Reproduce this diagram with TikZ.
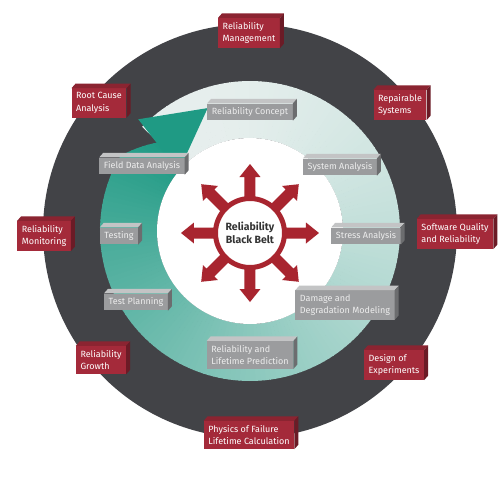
\documentclass[tikz,border=0pt]{standalone}
\usepackage{fontspec}
\setmainfont{Fira Sans}
\usetikzlibrary{calc}
\definecolor{ringdark}{HTML}{424347}
\definecolor{beltteal}{HTML}{1F9A84}
\definecolor{beltlight}{HTML}{EEF2F1}
\definecolor{beltred}{HTML}{A8252F}
\definecolor{topicred}{HTML}{A42A3A}
\definecolor{topicgray}{HTML}{9B9C9E}
\begin{document}
\begin{tikzpicture}[x=1pt, y=1pt,
    redtopic/.style={fill=topicred, text=white, font=\fontsize{9}{12.5}\selectfont,
      align=left, inner xsep=4.5pt, inner ysep=4.2pt},
    graytopic/.style={fill=topicgray, text=white!93!black, font=\fontsize{9}{12.5}\selectfont,
      align=left, inner xsep=4.5pt, inner ysep=4pt}]
  \useasboundingbox[fill=white] (-250, -273) rectangle (254, 231);
  \fill[ringdark] (0, 0) circle (207);

  \foreach \s in {0, 2, ..., 358} {
    \pgfmathsetmacro\a{136 - \s}
    \pgfmathsetmacro\p{4 + 96*max(0.001, (\s - 28)/332)^1.5}
    \pgfmathsetmacro\ra{150 - 1.6*max(0, \s - 346)}
    \pgfmathsetmacro\rb{150 - 1.6*max(0, \s + 2.3 - 346)}
    \fill[beltteal!\p!beltlight] (\a:93) -- (\a:\ra) -- ({\a - 2.3}:\rb) -- ({\a - 2.3}:93) -- cycle;
  }
  \fill[white] (0, 0) circle (93);
  \fill[beltteal] (135:158) -- (109:130) -- (140:93) -- cycle;

  \node[circle, draw=beltred, line width=5pt, fill=white, minimum size=69pt, inner sep=0pt,
        align=center, text=black!80, font=\bfseries\fontsize{10.5}{12.5}\selectfont]
        (hub) at (0, -2) {Reliability\\Black Belt};
  \foreach \a in {0, 45, ..., 315}
    \fill[beltred, shift={(hub.center)}, rotate=\a]
      (35, -5.5) -- (56, -5.5) -- (56, -10.5) -- (69, 0) -- (56, 10.5) -- (56, 5.5) -- (35, 5.5) -- cycle;

  \foreach \n/\x/\y/\t in {mgmt/-1/198/{Reliability\\Management},
                           rootcause/-151/128/{Root Cause\\Analysis},
                           repair/150/126/{Repairable\\Systems},
                           software/205/-3/{Software Quality\\and Reliability},
                           monitor/-206/-5/{Reliability\\Monitoring},
                           growth/-149/-129/{Reliability\\Growth},
                           doe/144/-134/{Design of\\Experiments},
                           physics/-1/-204/{Physics of Failure\\Lifetime Calculation}} {
    \node[redtopic] (\n) at (\x, \y) {\t};
    \fill[topicred!85!black] (\n.north west) -- ++(4, 4.5) -- ($(\n.north east) + (4, 4.5)$) -- (\n.north east) -- cycle;
    \fill[topicred!65!black] (\n.north east) -- ++(4, 4.5) -- ($(\n.south east) + (4, 4.5)$) -- (\n.south east) -- cycle;
  }

  \foreach \n/\x/\y/\t in {concept/0/119/{Reliability Concept},
                           sysana/90/64/{System Analysis},
                           stress/116/-5/{Stress Analysis},
                           damage/95/-74/{Damage and\\Degradation Modeling},
                           predict/0/-124/{Reliability and\\Lifetime Prediction},
                           planning/-114/-71/{Test Planning},
                           testing/-131/-5/{Testing},
                           fielddata/-108/65/{Field Data Analysis}} {
    \node[graytopic] (\n) at (\x, \y) {\t};
    \fill[topicgray!60!white] (\n.north west) -- ++(4, 4.5) -- ($(\n.north east) + (4, 4.5)$) -- (\n.north east) -- cycle;
    \fill[topicgray!70!black] (\n.north east) -- ++(4, 4.5) -- ($(\n.south east) + (4, 4.5)$) -- (\n.south east) -- cycle;
  }
\end{tikzpicture}
\end{document}
